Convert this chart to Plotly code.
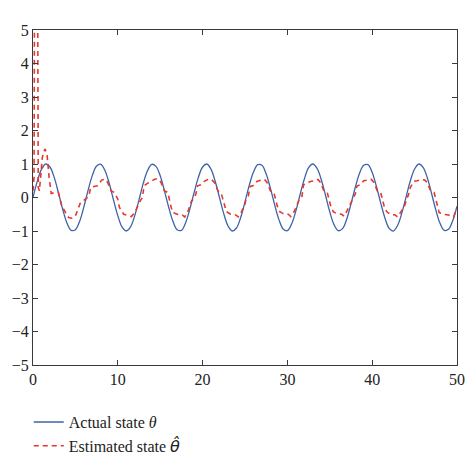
import plotly.graph_objects as go

t_actual = [
    0.0, 0.5, 1.0, 1.5, 2.0, 2.5, 3.0, 3.5, 4.0, 4.5, 5.0, 5.5, 6.0, 6.5, 7.0, 7.5,
    8.0, 8.5, 9.0, 9.5, 10.0, 10.5, 11.0, 11.5, 12.0, 12.5, 13.0, 13.5, 14.0, 14.5,
    15.0, 15.5, 16.0, 16.5, 17.0, 17.5, 18.0, 18.5, 19.0, 19.5, 20.0, 20.5, 21.0,
    21.5, 22.0, 22.5, 23.0, 23.5, 24.0, 24.5, 25.0, 25.5, 26.0, 26.5, 27.0, 27.5,
    28.0, 28.5, 29.0, 29.5, 30.0, 30.5, 31.0, 31.5, 32.0, 32.5, 33.0, 33.5, 34.0,
    34.5, 35.0, 35.5, 36.0, 36.5, 37.0, 37.5, 38.0, 38.5, 39.0, 39.5, 40.0, 40.5,
    41.0, 41.5, 42.0, 42.5, 43.0, 43.5, 44.0, 44.5, 45.0, 45.5, 46.0, 46.5, 47.0,
    47.5, 48.0, 48.5, 49.0, 49.5, 50.0,
]
y_actual = [
    0.0, 0.48, 0.84, 1.0, 0.91, 0.6, 0.14, -0.35, -0.76, -0.98, -0.96, -0.71, -0.28,
    0.22, 0.66, 0.94, 0.99, 0.8, 0.41, -0.08, -0.54, -0.88, -1.0, -0.88, -0.54, -0.07,
    0.42, 0.8, 0.99, 0.93, 0.65, 0.2, -0.29, -0.71, -0.96, -0.98, -0.75, -0.34, 0.15,
    0.6, 0.91, 1.0, 0.84, 0.47, -0.01, -0.49, -0.85, -1.0, -0.91, -0.59, -0.13, 0.36,
    0.76, 0.98, 0.96, 0.7, 0.27, -0.22, -0.66, -0.94, -0.99, -0.79, -0.4, 0.09, 0.55,
    0.89, 1.0, 0.87, 0.53, 0.06, -0.43, -0.81, -0.99, -0.93, -0.64, -0.19, 0.3, 0.72,
    0.96, 0.98, 0.75, 0.33, -0.16, -0.61, -0.92, -1.0, -0.83, -0.46, 0.02, 0.5, 0.85,
    1.0, 0.9, 0.59, 0.12, -0.37, -0.77, -0.98, -0.95, -0.69, -0.26,
]

# estimated state
t_est = [
    0.0, 0.12, 0.18, 0.55, 0.62, 0.75, 0.9, 1.1, 1.4, 1.65, 1.9, 2.15, 2.6, 3.0,
    3.4, 3.8, 4.2, 4.6, 5.0, 5.3, 5.6, 5.9,
    6.3, 6.6, 6.8, 7.2, 7.6, 8.1, 8.5, 8.8, 9.2, 9.6, 10.0, 10.2, 10.7, 11.3, 11.6, 12.0, 12.4,
    12.6, 12.9, 13.1, 13.5, 13.9, 14.4, 14.8, 15.1, 15.5, 15.9, 16.3, 16.5, 17.0, 17.6, 17.9, 18.3, 18.7,
    18.9, 19.2, 19.4, 19.8, 20.2, 20.7, 21.1, 21.4, 21.8, 22.2, 22.6, 22.8, 23.3, 23.9, 24.2, 24.6, 25.0,
    25.1, 25.4, 25.6, 26.0, 26.4, 26.9, 27.3, 27.6, 28.0, 28.4, 28.8, 29.1, 29.5, 30.1, 30.4, 30.8, 31.2,
    31.4, 31.7, 31.9, 32.3, 32.7, 33.2, 33.6, 33.9, 34.3, 34.7, 35.1, 35.4, 35.8, 36.4, 36.7, 37.1, 37.5,
    37.7, 38.0, 38.2, 38.6, 39.0, 39.5, 39.9, 40.2, 40.6, 41.0, 41.4, 41.7, 42.1, 42.7, 43.0, 43.4, 43.8,
    44.0, 44.3, 44.5, 44.9, 45.3, 45.8, 46.2, 46.5, 46.9, 47.3, 47.7, 47.9, 48.4, 49.0, 49.3, 49.6, 50.0,
]
y_est = [
    0.2, 0.6, 6.0, 6.0, 0.3, 0.2, 0.6, 1.2, 1.45, 1.3, 0.6, 0.12, 0.15, 0.15,
    -0.26, -0.45, -0.6, -0.62, -0.55, -0.35, -0.15, -0.1,
    -0.03, 0.05, 0.3, 0.33, 0.35, 0.52, 0.55, 0.45, 0.2, 0.15, -0.05, -0.3, -0.5, -0.55, -0.57, -0.45, -0.2,
    -0.12, 0.0, 0.35, 0.42, 0.48, 0.55, 0.55, 0.45, 0.2, 0.15, -0.3, -0.45, -0.5, -0.52, -0.58, -0.4, -0.1,
    -0.05, 0.1, 0.35, 0.38, 0.48, 0.55, 0.52, 0.45, 0.2, 0.12, -0.25, -0.42, -0.5, -0.52, -0.58, -0.42, -0.2,
    -0.08, 0.05, 0.33, 0.36, 0.48, 0.52, 0.54, 0.45, 0.2, 0.15, -0.25, -0.42, -0.48, -0.5, -0.57, -0.42, -0.16,
    -0.06, 0.0, 0.38, 0.42, 0.48, 0.5, 0.54, 0.45, 0.2, 0.15, -0.25, -0.42, -0.48, -0.5, -0.56, -0.36, -0.15,
    -0.05, 0.1, 0.34, 0.38, 0.5, 0.52, 0.54, 0.45, 0.2, 0.15, -0.25, -0.42, -0.5, -0.52, -0.58, -0.42, -0.26,
    -0.1, 0.1, 0.3, 0.48, 0.5, 0.54, 0.52, 0.44, 0.19, 0.15, -0.25, -0.45, -0.5, -0.52, -0.56, -0.58, -0.3,
]

serif = "Liberation Serif, DejaVu Serif, serif"

fig = go.Figure()
fig.add_trace(go.Scatter(x=t_actual, y=y_actual, mode="lines", line_shape="spline",
                         line=dict(color="#3d62a8", width=1.3),
                         name="Actual state <i>θ</i>"))
fig.add_trace(go.Scatter(x=t_est, y=y_est, mode="lines",
                         line=dict(color="#e8362a", width=1.6, dash="5px,4px"),
                         name="Estimated state <span style='font-family:DejaVu Sans'><i>θ̂</i></span>"))

axis = dict(showline=True, linecolor="#3a3a3a", linewidth=1.2, mirror="ticks",
            ticks="inside", ticklen=5, tickcolor="#3a3a3a", showgrid=False,
            zeroline=False, automargin=False,
            tickfont=dict(family=serif, size=16, color="#222"))
fig.update_xaxes(range=[0, 50], dtick=10, **axis)
fig.update_yaxes(range=[-5, 5], dtick=1, **axis)

# page body adds 8px, so the figure is a bit smaller than the window
fig.update_layout(
    width=458, height=458,
    margin=dict(l=25, r=9, t=22, b=101),
    plot_bgcolor="white", paper_bgcolor="white",
    legend=dict(x=-0.01, y=0.133, xanchor="left", yanchor="top", yref="container",
                font=dict(family=serif, size=16, color="#222"),
                tracegroupgap=0, itemwidth=30),
)

fig.write_html("out.html")
